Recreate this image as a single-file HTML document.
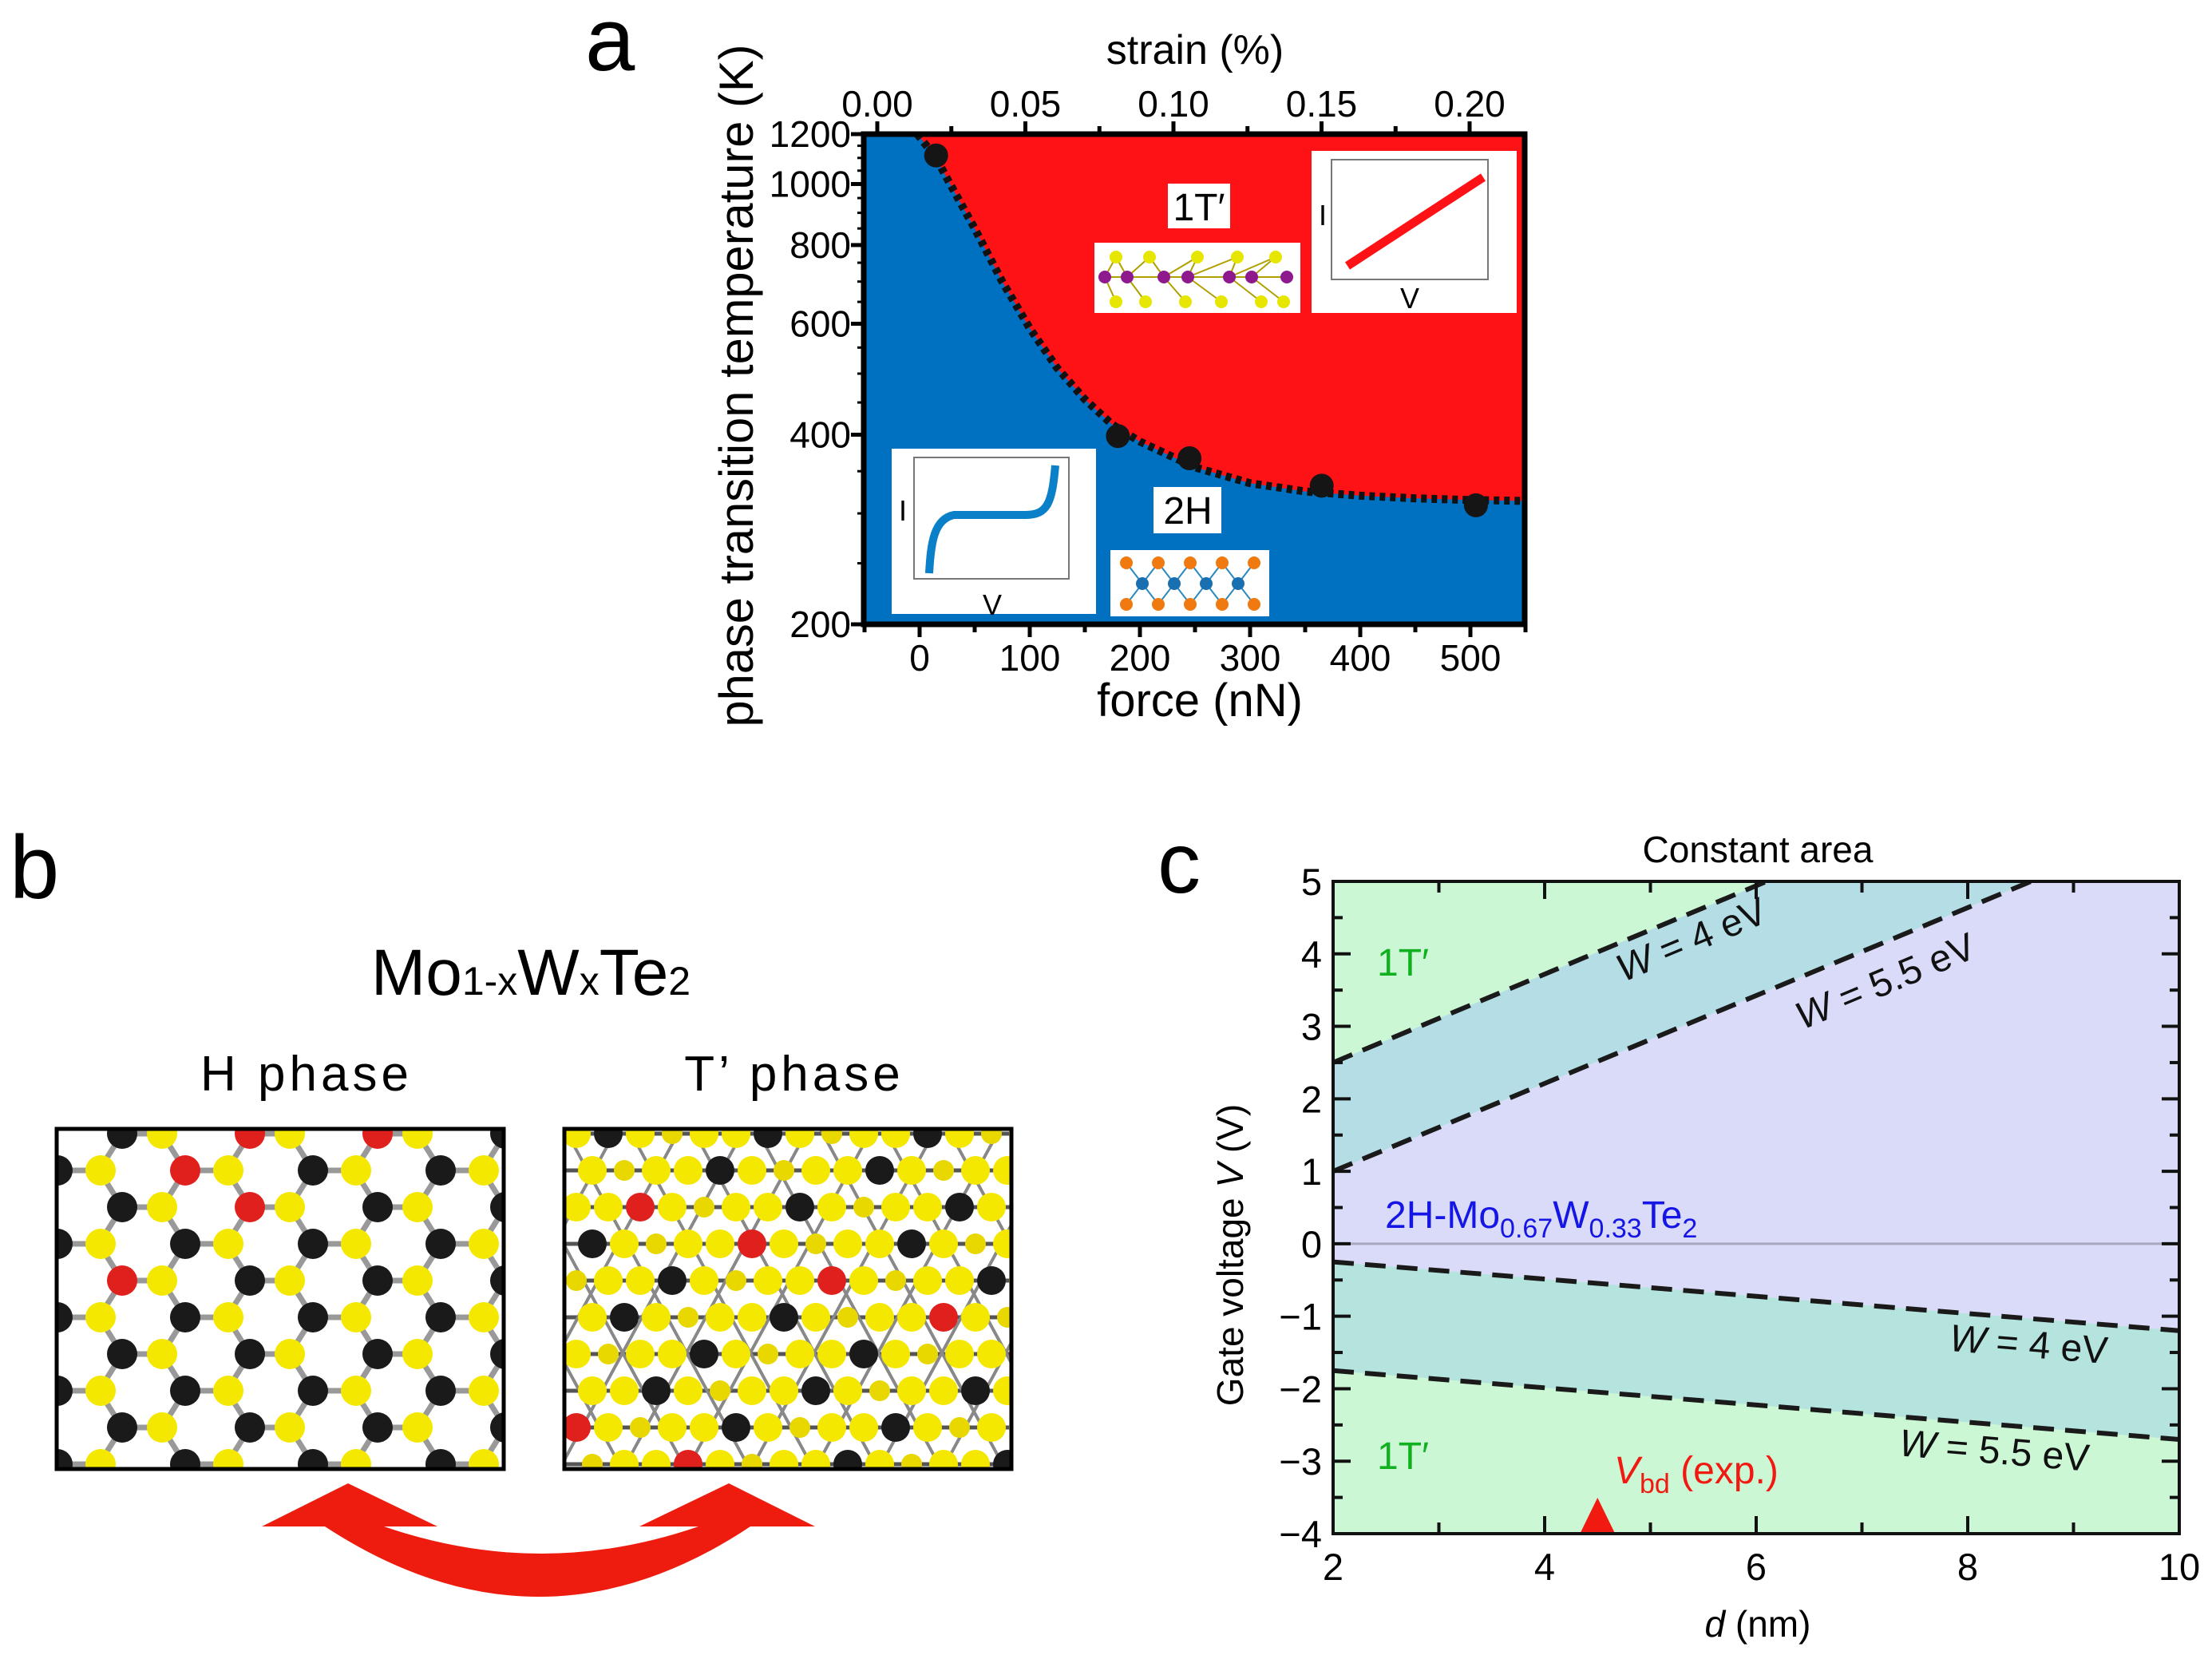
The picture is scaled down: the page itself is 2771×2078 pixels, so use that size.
<!DOCTYPE html>
<html><head><meta charset="utf-8"><style>
html,body{margin:0;padding:0;background:#fff}
svg{display:block}
text{font-family:"Liberation Sans",sans-serif}
</style></head><body>
<svg id="fig" width="2771" height="2078" viewBox="0 0 2771 2078" xmlns="http://www.w3.org/2000/svg">
<defs>
<clipPath id="cH"><rect x="73" y="1416" width="556" height="422"/></clipPath>
<clipPath id="cT"><rect x="709" y="1416" width="556" height="422"/></clipPath>
<clipPath id="cC"><rect x="1670" y="1104" width="1060" height="817"/></clipPath>
</defs>
<g id="pa"></g>
<g id="pb"></g>
<g id="pc"></g>
</svg>
<script>
// ---------- Panel a data ----------
const aForceTicks=[0,100,200,300,400,500];
const aStrainTicks=[0.00,0.05,0.10,0.15,0.20];
const aStrainLabels=["0.00","0.05","0.10","0.15","0.20"];
const aTempTicks=[200,400,600,800,1000,1200];
const aPointForce=[15,180,245,365,505];
const aPointTemp=[1110,398,367,332,309];
const aCurveForce=[-2,15,25,50,75,100,125,150,175,200,250,300,350,400,450,500,549];
const aCurveTemp=[1200,1100,1020,850,700,590,510,455,415,390,355,335,325,320,317,315,314];
// ---------- Panel c data ----------
const cXTicks=[2,4,6,8,10];
const cYTicks=[5,4,3,2,1,0,-1,-2,-3,-4];
const cYLabels=["5","4","3","2","1","0","\u22121","\u22122","\u22123","\u22124"];
const cLineD=[2,10];
const cUpperW4=[2.5,7.38];
const cUpperW55=[1.0,5.85];
const cLowerW4=[-0.25,-1.2];
const cLowerW55=[-1.75,-2.7];
const cVbdD=[4.5];
const cVbdV=[-4];

const NS="http://www.w3.org/2000/svg";
function el(parent,tag,attrs,txt){const e=document.createElementNS(NS,tag);for(const k in attrs)e.setAttribute(k,attrs[k]);if(txt!==undefined)e.textContent=txt;parent.appendChild(e);return e;}
function nm(e,n){return e;}

// ===== Panel A =====
const pa=document.getElementById('pa');
const aL=1082,aR=1910,aT=168,aB=782;
const fx=f=>1152+f*(1842-1152)/500;
const sx=s=>1099+s*(1841-1099)/0.20;
const ty=v=>aB-Math.log(v/200)*(aB-aT)/Math.log(6);
nm(el(pa,'text',{x:733,y:88,'font-size':112},'a'),'panel-a-label');
nm(el(pa,'rect',{x:aL,y:aT,width:aR-aL,height:aB-aT,fill:'#0071c1'}),'2h-region');
const pts=aCurveForce.map((f,i)=>[Math.max(aL,Math.min(aR,fx(f))),ty(aCurveTemp[i])]);
const ptsStr=pts.map(p=>p[0].toFixed(1)+','+p[1].toFixed(1)).join(' ');
nm(el(pa,'polygon',{points:ptsStr+` ${aR},${aT}`,fill:'#fe1216'}),'1t-prime-region');
nm(el(pa,'polyline',{points:ptsStr,fill:'none',stroke:'#111','stroke-width':10,'stroke-dasharray':'7,6'}),'phase-boundary-fit');
aPointForce.forEach((f,i)=>{
  const c=el(pa,'circle',{cx:fx(f),cy:ty(aPointTemp[i]),r:15,fill:'#151515'});
  
  
});
function box(g,x,y,w,h,name){return nm(el(g,'rect',{x:x,y:y,width:w,height:h,fill:'#fff'}),name);}
box(pa,1463,230,78,56,'1t-prime-label-box');
nm(el(pa,'text',{x:1502,y:276,'font-size':48,'text-anchor':'middle'},'1T\u2032'),'1t-prime-label');
box(pa,1371,304,258,88,'1t-prime-structure');
{
 const mid=[1384,1412,1458,1488,1540,1568,1612];
 for(let i=0;i<mid.length-1;i++)el(pa,'line',{x1:mid[i],y1:347,x2:mid[i+1],y2:347,stroke:'#b0a000','stroke-width':2});
 const top=[1398,1440,1500,1550,1598],bot=[1398,1435,1485,1530,1580,1608];
 top.forEach((x,i)=>{el(pa,'line',{x1:x,y1:322,x2:mid[i],y2:347,stroke:'#b0a000','stroke-width':2});el(pa,'line',{x1:x,y1:322,x2:mid[i+1],y2:347,stroke:'#b0a000','stroke-width':2});});
 bot.forEach((x,i)=>el(pa,'line',{x1:x,y1:378,x2:mid[i],y2:347,stroke:'#b0a000','stroke-width':2}));
 mid.forEach(x=>el(pa,'circle',{cx:x,cy:347,r:8,fill:'#8e1a8e'}));
 top.forEach(x=>el(pa,'circle',{cx:x,cy:322,r:8,fill:'#e6e600'}));
 bot.forEach(x=>el(pa,'circle',{cx:x,cy:378,r:8,fill:'#e6e600'}));
}
box(pa,1643,189,257,203,'iv-inset-metallic');
el(pa,'rect',{x:1668,y:200,width:196,height:150,fill:'none',stroke:'#777','stroke-width':2});
el(pa,'line',{x1:1688,y1:333,x2:1858,y2:222,stroke:'#fe1216','stroke-width':11});
el(pa,'text',{x:1657,y:282,'font-size':36,'text-anchor':'middle'},'I');
el(pa,'text',{x:1766,y:386,'font-size':36,'text-anchor':'middle'},'V');
box(pa,1445,610,85,58,'2h-label-box');
nm(el(pa,'text',{x:1488,y:656,'font-size':48,'text-anchor':'middle'},'2H'),'2h-label');
box(pa,1391,689,199,83,'2h-structure');
{
 const tx=[1411,1451,1491,1531,1571],mx=[1431,1471,1511,1551];
 mx.forEach((x,i)=>{[[tx[i],705],[tx[i+1],705],[tx[i],757],[tx[i+1],757]].forEach(p=>el(pa,'line',{x1:x,y1:731,x2:p[0],y2:p[1],stroke:'#2a8ac0','stroke-width':2}));});
 tx.forEach(x=>{el(pa,'circle',{cx:x,cy:705,r:8,fill:'#f07a10'});el(pa,'circle',{cx:x,cy:757,r:8,fill:'#f07a10'});});
 mx.forEach(x=>el(pa,'circle',{cx:x,cy:731,r:8,fill:'#1a6fb0'}));
}
box(pa,1117,562,256,207,'iv-inset-semiconducting');
el(pa,'rect',{x:1145,y:573,width:194,height:152,fill:'none',stroke:'#777','stroke-width':2});
el(pa,'path',{d:'M1164,718 C1166,680 1170,650 1195,645 L1285,645 C1312,645 1318,630 1322,583',fill:'none',stroke:'#0a80c8','stroke-width':10});
el(pa,'text',{x:1131,y:652,'font-size':36,'text-anchor':'middle'},'I');
el(pa,'text',{x:1243,y:770,'font-size':36,'text-anchor':'middle'},'V');
nm(el(pa,'rect',{x:aL,y:aT,width:aR-aL,height:aB-aT,fill:'none',stroke:'#000','stroke-width':7}),'panel-a-frame');
for(let f=-50;f<=550;f+=50){el(pa,'line',{x1:fx(f),y1:aB,x2:fx(f),y2:aB+(f%100===0?16:10),stroke:'#000','stroke-width':5});}
aForceTicks.forEach(f=>{
  const tt=el(pa,'text',{x:fx(f),y:aB+58,'font-size':46,'text-anchor':'middle'},String(f));
  
  
});
for(let k=0;k<=8;k++){const s=k*0.025;el(pa,'line',{x1:sx(s),y1:aT,x2:sx(s),y2:aT-(k%2===0?16:10),stroke:'#000','stroke-width':5});}
aStrainTicks.forEach((s,i)=>{
  const tt=el(pa,'text',{x:sx(s),y:aT-22,'font-size':46,'text-anchor':'middle'},aStrainLabels[i]);
  
  
});
for(let v=200;v<=1200;v+=50){el(pa,'line',{x1:aL,y1:ty(v),x2:aL-(v%200===0?16:8),y2:ty(v),stroke:'#000','stroke-width':(v%200===0?5:3)});}
aTempTicks.forEach(v=>{
  const tt=el(pa,'text',{x:aL-16,y:ty(v)+16,'font-size':46,'text-anchor':'end'},String(v));
  
  
});
nm(el(pa,'text',{x:1503,y:897,'font-size':58,'text-anchor':'middle'},'force (nN)'),'x-axis-title');
nm(el(pa,'text',{x:1497,y:80,'font-size':52,'text-anchor':'middle'},'strain (%)'),'top-axis-title');
nm(el(pa,'text',{x:0,y:0,'font-size':60,'text-anchor':'middle',textLength:855,lengthAdjust:'spacingAndGlyphs',transform:'translate(943,483) rotate(-90)'},'phase transition temperature (K)'),'y-axis-title');

// ===== Panel B =====
const pb=document.getElementById('pb');
nm(el(pb,'text',{x:12,y:1125,'font-size':112},'b'),'panel-b-label');
{const t=nm(el(pb,'text',{x:665,y:1246,'font-size':82,'text-anchor':'middle'}),'formula-title');
 t.innerHTML='Mo<tspan font-size="50">1-x</tspan>W<tspan font-size="50">x</tspan>Te<tspan font-size="50">2</tspan>';}
nm(el(pb,'text',{x:384,y:1366,'font-size':62,'text-anchor':'middle','letter-spacing':5},'H phase'),'h-phase-title');
nm(el(pb,'text',{x:995,y:1366,'font-size':62,'text-anchor':'middle','letter-spacing':5},'T\u2019 phase'),'t-prime-phase-title');
// H lattice
{
 const g=nm(el(pb,'g',{'clip-path':'url(#cH)'}),'h-phase-lattice');
 el(g,'rect',{x:71,y:1414,width:560,height:426,fill:'#fff'});
 const P=160,R=46,bondsG=el(g,'g',{}),atomsG=el(g,'g',{});
 const atoms=[];
 for(let r=-1;r<11;r++){
  const y=1420+r*R;
  for(let k=-1;k<5;k++){
   if(r%2===0){atoms.push([153+k*P,y,'M',r,k]);atoms.push([203+k*P,y,'S']);
     el(bondsG,'line',{x1:153+k*P,y1:y,x2:203+k*P,y2:y,stroke:'#999','stroke-width':7});
     [y-R,y+R].forEach(yy=>{el(bondsG,'line',{x1:153+k*P,y1:y,x2:124+k*P,y2:yy,stroke:'#999','stroke-width':7});el(bondsG,'line',{x1:203+k*P,y1:y,x2:232+k*P,y2:yy,stroke:'#999','stroke-width':7});});
   } else {atoms.push([232+k*P,y,'M',r,k]);atoms.push([286+k*P,y,'S']);
     el(bondsG,'line',{x1:232+k*P,y1:y,x2:286+k*P,y2:y,stroke:'#999','stroke-width':7});}
  }
 }
 const reds=new Set(['1,0','2,1','-1,1','-1,2','4,0','5,3','0,1','0,2']);
 atoms.forEach(a=>{let col='#f5e800';if(a[2]==='M')col=reds.has(a[3]+','+a[4])?'#e0201c':'#1a1a1a';
  el(atomsG,'circle',{cx:a[0],cy:a[1],r:19,fill:col});});
 nm(el(pb,'rect',{x:71,y:1414,width:560,height:426,fill:'none',stroke:'#000','stroke-width':5}),'h-phase-box');
}
// T' lattice
{
 const g=nm(el(pb,'g',{'clip-path':'url(#cT)'}),'t-prime-phase-lattice');
 el(g,'rect',{x:707,y:1414,width:560,height:426,fill:'#fff'});
 const bondsG=el(g,'g',{}),atomsG=el(g,'g',{});
 const dx=40,R=46;
 for(let r=-1;r<11;r++){const y=1420+r*R;
  el(bondsG,'line',{x1:707,y1:y,x2:1267,y2:y,stroke:'#555','stroke-width':5});}
 for(let c=-8;c<24;c++){const x0=700+c*dx*2;
  el(bondsG,'line',{x1:x0,y1:1400,x2:x0+250,y2:1860,stroke:'#888','stroke-width':4});
  el(bondsG,'line',{x1:x0,y1:1400,x2:x0-250,y2:1860,stroke:'#888','stroke-width':4});}
 for(let r=-1;r<11;r++){const y=1420+r*R;const off=(r%2===0)?0:20;
  for(let c=0;c<15;c++){const x=722+c*dx+off;
   let col='#f5e800',rad=18;
   const m=(c+r*2)%5;
   if(m===1){col=((c*7+r*3)%4===0)?'#e0201c':'#1a1a1a';}
   else if(m===3){col='#e8d800';rad=13;}
   el(atomsG,'circle',{cx:x,cy:y,r:rad,fill:col});}}
 nm(el(pb,'rect',{x:707,y:1414,width:560,height:426,fill:'none',stroke:'#000','stroke-width':5}),'t-prime-phase-box');
}
nm(el(pb,'path',{d:'M328,1912 L436,1858 L548,1912 L481,1912 Q678,1980 875,1912 L801,1912 L913,1858 L1021,1912 L940,1912 Q676,2088 407,1912 Z',fill:'#ee1c0e'}),'phase-transition-arrow');

// ===== Panel C =====
const pc=document.getElementById('pc');
const cL=1670,cR=2730,cT=1104,cB=1921;
const cx=d=>cL+(d-2)*(cR-cL)/8;
const cy=v=>cT+(5-v)*(cB-cT)/9;
nm(el(pc,'text',{x:1450,y:1118,'font-size':108},'c'),'panel-c-label');
nm(el(pc,'text',{x:2202,y:1080,'font-size':46,'text-anchor':'middle'},'Constant area'),'chart-title');
const gc=el(pc,'g',{'clip-path':'url(#cC)'});
nm(el(gc,'rect',{x:cL,y:cT,width:cR-cL,height:cB-cT,fill:'#cbf7d5'}),'1t-prime-background');
function lp(arr){return cLineD.map((d,i)=>[cx(d),cy(arr[i])]);}
function band(a,b,fill,name){const p=lp(a).concat(lp(b).reverse());nm(el(gc,'polygon',{points:p.map(q=>q.join(',')).join(' '),fill:fill}),name);}
band(cUpperW4,cUpperW55,'#b5dde6','upper-transition-band');
band(cUpperW55,cLowerW4,'#dadbf8','2h-region');
band(cLowerW4,cLowerW55,'#b5e3dd','lower-transition-band');
nm(el(gc,'line',{x1:cL,y1:cy(0),x2:cR,y2:cy(0),stroke:'#a8a8c0','stroke-width':3}),'zero-line');
[[cUpperW4,'upper-w4-line'],[cUpperW55,'upper-w55-line'],[cLowerW4,'lower-w4-line'],[cLowerW55,'lower-w55-line']].forEach(([arr,n])=>{
 const p=lp(arr);
 const ln=el(gc,'line',{x1:p[0][0],y1:p[0][1],x2:p[1][0],y2:p[1][1],stroke:'#1a1a1a','stroke-width':6,'stroke-dasharray':'26,14'});
 
 
});
cVbdD.forEach((d,i)=>{const x=cx(d),y=cy(cVbdV[i]);
 const tr=el(pc,'polygon',{points:`${x-22},${y} ${x+22},${y} ${x},${y-45}`,fill:'#f01a10'});
 
 });
function rl(x,y,ang,html,name,fill){const t=nm(el(pc,'text',{x:0,y:0,'font-size':48,fill:fill||'#111','text-anchor':'middle',transform:`translate(${x},${y}) rotate(${ang})`}),name);t.innerHTML=html;return t;}
rl(2125,1192,-22.7,'<tspan font-style="italic">W</tspan> = 4 eV','upper-w4-label');
rl(2368,1244,-22.7,'<tspan font-style="italic">W</tspan> = 5.5 eV','upper-w55-label');
rl(2540,1700,4.7,'<tspan font-style="italic">W</tspan> = 4 eV','lower-w4-label');
rl(2497,1833,4.7,'<tspan font-style="italic">W</tspan> = 5.5 eV','lower-w55-label');
nm(el(pc,'text',{x:1725,y:1222,'font-size':48,fill:'#10b020'},'1T\u2032'),'1t-prime-upper-label');
nm(el(pc,'text',{x:1725,y:1840,'font-size':48,fill:'#10b020'},'1T\u2032'),'1t-prime-lower-label');
{const t=nm(el(pc,'text',{x:1735,y:1538,'font-size':48,fill:'#1515e6'}),'2h-phase-label');
 t.innerHTML='2H-Mo<tspan font-size="34" dy="12">0.67</tspan><tspan dy="-12">W</tspan><tspan font-size="34" dy="12">0.33</tspan><tspan dy="-12">Te</tspan><tspan font-size="34" dy="12">2</tspan>';}
{const t=nm(el(pc,'text',{x:2022,y:1858,'font-size':48,fill:'#f01a10'}),'vbd-label');
 t.innerHTML='<tspan font-style="italic">V</tspan><tspan font-size="34" dy="12">bd</tspan><tspan dy="-12"> (exp.)</tspan>';}
nm(el(pc,'rect',{x:cL,y:cT,width:cR-cL,height:cB-cT,fill:'none',stroke:'#111','stroke-width':4}),'panel-c-frame');
for(let v=-4;v<=5;v+=0.5){const maj=Number.isInteger(v);const len=maj?22:12;
 el(pc,'line',{x1:cL,y1:cy(v),x2:cL+len,y2:cy(v),stroke:'#111','stroke-width':4});
 el(pc,'line',{x1:cR,y1:cy(v),x2:cR-len,y2:cy(v),stroke:'#111','stroke-width':4});}
for(let d=2;d<=10;d+=1){const len=(d%2===0)?22:14;
 el(pc,'line',{x1:cx(d),y1:cB,x2:cx(d),y2:cB-len,stroke:'#111','stroke-width':4});
 el(pc,'line',{x1:cx(d),y1:cT,x2:cx(d),y2:cT+len,stroke:'#111','stroke-width':4});}
cYTicks.forEach((v,i)=>{
 const tt=el(pc,'text',{x:cL-14,y:cy(v)+17,'font-size':47,'text-anchor':'end'},cYLabels[i]);
 
 
});
cXTicks.forEach(d=>{
 const tt=el(pc,'text',{x:cx(d),y:cB+58,'font-size':47,'text-anchor':'middle'},String(d));
 
 
});
{const t=nm(el(pc,'text',{x:2202,y:2050,'font-size':46,'text-anchor':'middle'}),'x-axis-title');t.innerHTML='<tspan font-style="italic">d</tspan> (nm)';}
{const t=nm(el(pc,'text',{x:0,y:0,'font-size':46,'text-anchor':'middle',transform:'translate(1557,1572) rotate(-90)'}),'y-axis-title');t.innerHTML='Gate voltage <tspan font-style="italic">V</tspan> (V)';}
</script>
</body></html>
